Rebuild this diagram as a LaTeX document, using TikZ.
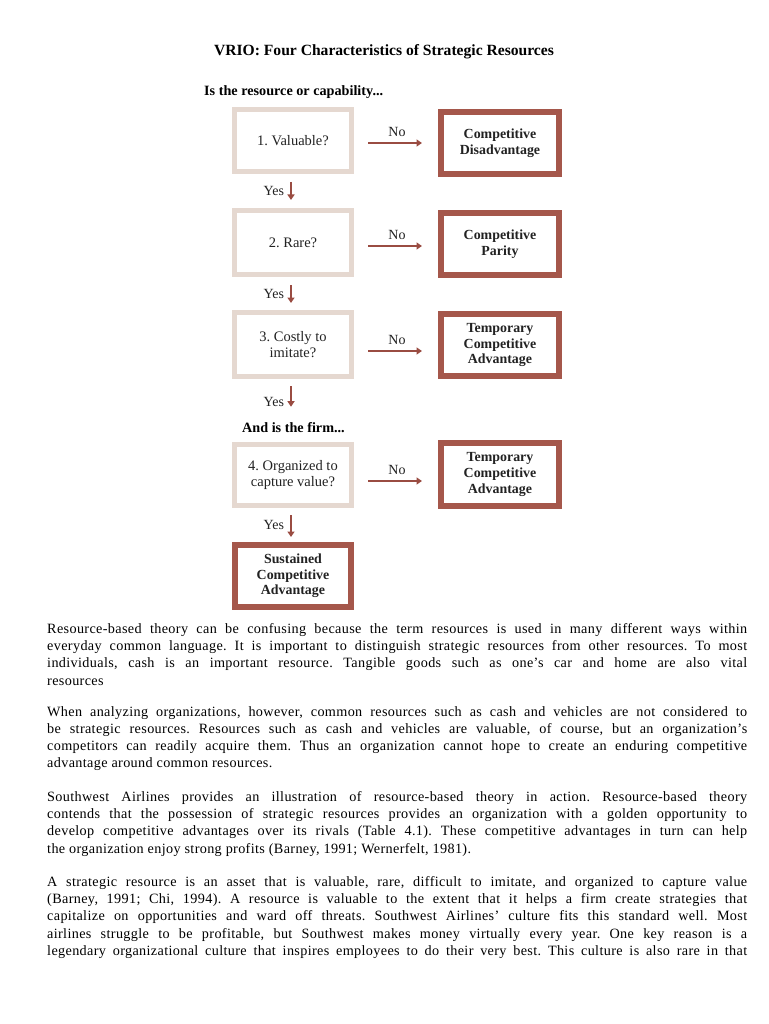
\documentclass[tikz,border=0pt]{standalone}
\usepackage{fontspec}
\setmainfont{Liberation Serif}
\newfontfamily\bodyfont[LetterSpace=2.5]{Liberation Serif}
\usetikzlibrary{arrows.meta,calc}
\definecolor{lightbox}{HTML}{E5D8D0}
\definecolor{darkbox}{HTML}{A5574B}
\definecolor{arrowc}{HTML}{9A4C42}
\definecolor{boxtext}{HTML}{222222}
\newcommand\fullline[1]{\makebox[700pt][s]{#1}}
\frenchspacing
\begin{document}
\begin{tikzpicture}[x=1pt,y=-1pt,
  qbox/.style={draw=lightbox,line width=5pt,minimum width=117pt,minimum height=62pt,inner sep=0pt,align=center,text=boxtext,font=\fontsize{14.5}{16.5}\selectfont},
  rbox/.style={draw=darkbox,line width=6pt,minimum width=118pt,minimum height=62pt,inner sep=0pt,align=center,text=boxtext,font=\bfseries\fontsize{13.9}{15.7}\selectfont},
  arr/.style={draw=arrowc,line width=2pt,-{Triangle[length=5.5pt,width=7pt]}},
  lbl/.style={font=\fontsize{14}{16}\selectfont,inner sep=0pt,text=boxtext},
  hdr/.style={anchor=west,inner sep=0pt,font=\bfseries\fontsize{14.2}{16}\selectfont},
  para/.style={anchor=north west,inner sep=0pt,align=left,font=\bodyfont\fontsize{14.2}{17.3}\selectfont}]
\useasboundingbox[fill=white] (0,0) rectangle (768,1024);

\node[font=\bfseries\fontsize{15.6}{18}\selectfont] (title) at (384,52) {VRIO: Four Characteristics of Strategic Resources};
\node[hdr] (q1) at (204,92) {Is the resource or capability...};
\node[hdr] (q2) at (242,428) {And is the firm...};

\node[qbox,minimum height=62pt] (b1) at (293,140.5) {1. Valuable?};
\node[qbox,minimum height=64pt] (b2) at (293,242.5) {2. Rare?};
\node[qbox,minimum height=64pt] (b3) at (293,344.5) {3. Costly to\\imitate?};
\node[qbox,minimum height=61pt] (b4) at (293,475) {4. Organized to\\capture value?};
\node[rbox,minimum width=116pt] (s) at (293,576) {Sustained\\Competitive\\Advantage};

\node[rbox] (r1) at (500,143) {Competitive\\Disadvantage};
\node[rbox] (r2) at (500,244) {Competitive\\Parity};
\node[rbox] (r3) at (500,345) {Temporary\\Competitive\\Advantage};
\node[rbox,minimum height=63pt] (r4) at (500,474.5) {Temporary\\Competitive\\Advantage};

% No arrows
\draw[arr,shorten >=16pt] ([shift={(14,2.5)}]b1.east) coordinate (n1) -- (n1 -| r1.west) node[lbl,midway,above=5pt,xshift=-6pt] (no1) {No};
\draw[arr,shorten >=16pt] ([shift={(14,3.5)}]b2.east) coordinate (n2) -- (n2 -| r2.west) node[lbl,midway,above=5pt,xshift=-6pt] (no2) {No};
\draw[arr,shorten >=16pt] ([shift={(14,6.5)}]b3.east) coordinate (n3) -- (n3 -| r3.west) node[lbl,midway,above=5pt,xshift=-6pt] (no3) {No};
\draw[arr,shorten >=16pt] ([shift={(14,6)}]b4.east) coordinate (n4) -- (n4 -| r4.west) node[lbl,midway,above=5pt,xshift=-6pt] (no4) {No};

% Yes arrows
\draw[arr,shorten <=8pt,shorten >=8pt] ([xshift=-2pt]b1.south) -- ([xshift=-2pt]b2.north) node[lbl,midway,left=6pt] (y1) {Yes};
\draw[arr,shorten <=8pt,shorten >=7pt] ([xshift=-2pt]b2.south) -- ([xshift=-2pt]b3.north) node[lbl,midway,left=6pt] (y2) {Yes};
\draw[arr,shorten <=7pt,shorten >=16pt] ([xshift=-2pt]b3.south) -- ([xshift=-2pt]b3.south |- q2.north) node[lbl,midway,left=6pt,yshift=-1pt] (y3) {Yes};
\draw[arr,shorten <=7pt,shorten >=5pt] ([xshift=-2pt]b4.south) -- ([xshift=-2pt]s.north) node[lbl,midway,left=6pt] (y4) {Yes};

% Body text
\node[para] (p1) at (47,623) {%
\fullline{Resource-based theory can be confusing because the term resources is used in many different ways within}\\
\fullline{everyday common language. It is important to distinguish strategic resources from other resources. To most}\\
\fullline{individuals, cash is an important resource. Tangible goods such as one’s car and home are also vital}\\
resources};
\node[para] (p2) at (47,706) {%
\fullline{When analyzing organizations, however, common resources such as cash and vehicles are not considered to}\\
\fullline{be strategic resources. Resources such as cash and vehicles are valuable, of course, but an organization’s}\\
\fullline{competitors can readily acquire them. Thus an organization cannot hope to create an enduring competitive}\\
advantage around common resources.};
\node[para] (p3) at (47,791) {%
\fullline{Southwest Airlines provides an illustration of resource-based theory in action. Resource-based theory}\\
\fullline{contends that the possession of strategic resources provides an organization with a golden opportunity to}\\
\fullline{develop competitive advantages over its rivals (Table 4.1). These competitive advantages in turn can help}\\
the organization enjoy strong profits (Barney, 1991; Wernerfelt, 1981).};
\node[para] (p4) at (47,876) {%
\fullline{A strategic resource is an asset that is valuable, rare, difficult to imitate, and organized to capture value}\\
\fullline{(Barney, 1991; Chi, 1994). A resource is valuable to the extent that it helps a firm create strategies that}\\
\fullline{capitalize on opportunities and ward off threats. Southwest Airlines’ culture fits this standard well. Most}\\
\fullline{airlines struggle to be profitable, but Southwest makes money virtually every year. One key reason is a}\\
\fullline{legendary organizational culture that inspires employees to do their very best. This culture is also rare in that}};
\end{tikzpicture}
\end{document}
